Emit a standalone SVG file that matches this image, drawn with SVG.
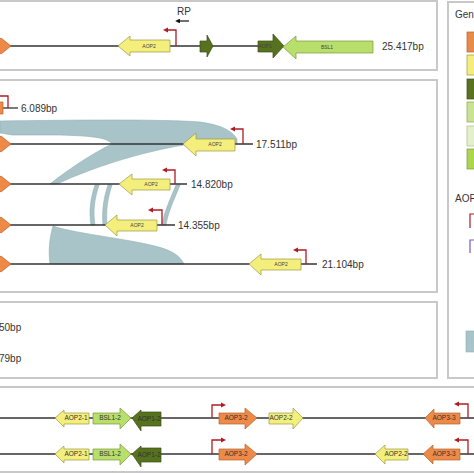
<svg xmlns="http://www.w3.org/2000/svg" width="474" height="474" viewBox="0 0 474 474">
<defs>
<style>
.panel{fill:#fff;stroke:#c8c8c8;stroke-width:2}
.line{stroke:#333;stroke-width:1.3;fill:none}
.orange{fill:#ee8a48;stroke:#b5622c;stroke-width:0.7}
.yellow{fill:#f4ef7c;stroke:#9c9840;stroke-width:0.7}
.dgreen{fill:#56721f;stroke:#3a4f12;stroke-width:0.7}
.lgreen{fill:#b8de6c;stroke:#7a9a3a;stroke-width:0.7}
.teal{fill:#a9c4c9;stroke:#90b0b6;stroke-width:0.6}
.prom{stroke:#b01c22;stroke-width:1.3;fill:none}
.lbl{font-family:"Liberation Sans",Arial,sans-serif;fill:#333;font-size:10px}
.gl{font-family:"Liberation Sans",Arial,sans-serif;fill:#444;font-size:5px;text-anchor:middle}
.gl2{font-family:"Liberation Sans",Arial,sans-serif;fill:#333;font-size:6.5px;text-anchor:middle}
</style>
<marker id="rh" viewBox="0 0 10 10" refX="2" refY="5" markerWidth="4" markerHeight="4" orient="auto"><path d="M0,0 L10,5 L0,10 Z" fill="#b01c22"/></marker>
<marker id="bh" viewBox="0 0 10 10" refX="2" refY="5" markerWidth="4" markerHeight="4" orient="auto"><path d="M0,0 L10,5 L0,10 Z" fill="#111"/></marker>
</defs>
<rect width="474" height="474" fill="#fff"/>

<!-- panels -->
<g id="panels">
<rect class="panel" x="-5" y="1" width="442" height="69"/>
<rect class="panel" x="-5" y="80" width="442" height="212"/>
<rect class="panel" x="-5" y="302" width="442" height="76"/>
<rect class="panel" x="448" y="2" width="40" height="376"/>
<rect class="panel" x="-5" y="387" width="490" height="85"/>
</g>

<!-- alignment ribbons -->
<g id="ribbons">
<path class="teal" d="M0,121 C70,120 160,119 200,122 C222,125 232,131 237,139 L237,144 L190,144 C150,150 100,164 57,184 L50,184 C70,168 95,152 112,144 C108,138 95,136 60,135 L12,135 C6,134 2,133 0,133 Z"/>
<path class="teal" d="M95,185 C90,200 89,212 91,225 L95,225 C93,212 94,200 99,185 Z"/>
<path class="teal" d="M108,185 C103,200 102,212 103,225 L107,225 C106,212 107,200 112,185 Z"/>
<path class="teal" d="M176,185 C170,200 164,212 162,225 L166,225 C168,212 174,200 180,185 Z"/>
<path class="teal" d="M53,226 C75,234 140,240 165,249 C176,253 181,258 184,264 L50,264 C48,250 50,236 53,226 Z"/>
</g>

<!-- connectors: backbone lines and promoters -->
<g id="connectors">
<line class="line" x1="10" y1="46" x2="283" y2="46"/>
<line class="line" x1="3" y1="108" x2="18" y2="108"/>
<line class="line" x1="10" y1="144" x2="253" y2="144"/>
<line class="line" x1="10" y1="184" x2="187" y2="184"/>
<line class="line" x1="10" y1="225" x2="175" y2="225"/>
<line class="line" x1="10" y1="264" x2="317" y2="264"/>
<line class="line" x1="-5" y1="418" x2="480" y2="418"/>
<line class="line" x1="-5" y1="454" x2="480" y2="454"/>
<path class="prom" d="M176,46 V30 H167" marker-end="url(#rh)"/>
<path class="prom" d="M8,108 V96 H-2"/>
<path class="prom" d="M243,144 V129 H234" marker-end="url(#rh)"/>
<path class="prom" d="M175,184 V170 H166" marker-end="url(#rh)"/>
<path class="prom" d="M162,225 V210 H152" marker-end="url(#rh)"/>
<path class="prom" d="M306,264 V250 H297" marker-end="url(#rh)"/>
<path class="prom" d="M212,418 V405 H222" marker-end="url(#rh)"/>
<path class="prom" d="M468,418 V404 H458" marker-end="url(#rh)"/>
<path class="prom" d="M212,454 V440 H222" marker-end="url(#rh)"/>
<path class="prom" d="M468,454 V440 H458" marker-end="url(#rh)"/>
<line x1="189" y1="21" x2="179" y2="21" stroke="#111" stroke-width="1.2" marker-end="url(#bh)"/>
</g>

<!-- panel 1 -->
<g id="p1-start"><polygon class="orange" points="-8,46 1,38 11,46 1,54"/></g>
<g id="p1-aop2"><path class="yellow" d="M118,46 L130,36 L130,40 L170,40 L170,52 L130,52 L130,56 Z"/><text class="gl" x="149" y="48">AOP2</text></g>
<g id="p1-small"><path class="dgreen" d="M200,41 L207,41 L207,35 L213,46 L207,57 L207,52 L200,52 Z"/></g>
<g id="p1-aop1"><path class="dgreen" d="M258,41 L273,41 L273,34 L284,46 L273,58 L273,52 L258,52 Z"/><text class="gl" x="265" y="48" fill="#222">AOP1</text></g>
<g id="p1-bsl1"><path class="lgreen" d="M283,47 L296,36 L296,41 L373,41 L373,53 L296,53 L296,59 Z"/><text class="gl" x="327" y="49">BSL1</text></g>
<g id="p1-label"><text class="lbl" x="382" y="50">25.417bp</text><text class="lbl" x="177" y="15">RP</text></g>

<!-- panel 2 -->
<g id="r1"><rect class="orange" x="-6" y="102" width="9" height="12"/><text class="lbl" x="21" y="112">6.089bp</text></g>
<g id="r2"><polygon class="orange" points="-8,144 1,136 11,144 1,152"/><path class="yellow" d="M183,144 L196,133 L196,139 L235,139 L235,151 L196,151 L196,156 Z"/><text class="gl" x="215" y="146">AOP2</text><text class="lbl" x="256" y="148">17.511bp</text></g>
<g id="r3"><polygon class="orange" points="-8,184 1,176 11,184 1,192"/><path class="yellow" d="M119,184 L132,174 L132,179 L170,179 L170,190 L132,190 L132,195 Z"/><text class="gl" x="151" y="186">AOP2</text><text class="lbl" x="191" y="188">14.820bp</text></g>
<g id="r4"><polygon class="orange" points="-8,225 1,217 11,225 1,233"/><path class="yellow" d="M105,225 L117,215 L117,220 L157,220 L157,231 L117,231 L117,236 Z"/><text class="gl" x="137" y="227">AOP2</text><text class="lbl" x="178" y="229">14.355bp</text></g>
<g id="r5"><polygon class="orange" points="-8,264 1,256 11,264 1,272"/><path class="yellow" d="M249,264 L261,254 L261,259 L301,259 L301,270 L261,270 L261,275 Z"/><text class="gl" x="281" y="266">AOP2</text><text class="lbl" x="322" y="268">21.104bp</text></g>

<!-- panel 3 -->
<g id="p3"><text class="lbl" x="-1" y="331">50bp</text><text class="lbl" x="-1" y="362">79bp</text></g>

<!-- legend -->
<g id="legend">
<text class="lbl" x="455" y="18" font-size="11">Genes</text>
<rect x="467" y="32" width="12" height="20" fill="#e98a4b" stroke="#b5622c" stroke-width="0.7"/>
<rect x="467" y="55" width="12" height="20" fill="#f3ee7c" stroke="#9c9840" stroke-width="0.7"/>
<rect x="467" y="79" width="12" height="20" fill="#5a7320" stroke="#3a4f12" stroke-width="0.7"/>
<rect x="467" y="102" width="12" height="20" fill="#c9e294" stroke="#8aa650" stroke-width="0.7"/>
<rect x="467" y="126" width="12" height="20" fill="#e3f0cb" stroke="#a8bf86" stroke-width="0.7"/>
<rect x="467" y="149" width="12" height="20" fill="#add54f" stroke="#7a9a3a" stroke-width="0.7"/>
<text class="lbl" x="455" y="202" font-size="11">AOP</text>
<path d="M470,228 V214 H480" stroke="#b01c22" stroke-width="1.2" fill="none"/>
<path d="M470,253 V240 H480" stroke="#7a5cc0" stroke-width="1.2" fill="none"/>
<rect class="teal" x="466" y="331" width="12" height="21"/>
</g>

<!-- panel 4 -->
<g id="b-row1">
<path class="yellow" d="M55,418 L64,410 L64,413 L89,413 L89,424 L64,424 L64,427 Z"/><text class="gl2" x="76" y="420">AOP2-1</text>
<path class="lgreen" d="M93,413 L120,413 L120,408 L131,418 L120,429 L120,424 L93,424 Z"/><text class="gl2" x="110" y="420">BSL1-2</text>
<path class="dgreen" d="M132,418 L141,410 L141,412 L161,412 L161,426 L141,426 L141,431 Z"/><text class="gl2" x="149" y="421" fill="#111">AOP1-2</text>
<path class="orange" d="M219,413 L245,413 L245,408 L257,418 L245,429 L245,424 L219,424 Z"/><text class="gl2" x="236" y="420">AOP3-2</text>
<path class="yellow" d="M269,413 L293,413 L293,408 L303,418 L293,429 L293,424 L269,424 Z"/><text class="gl2" x="281" y="420">AOP2-2</text>
<path class="orange" d="M425,418 L434,409 L434,413 L460,413 L460,424 L434,424 L434,428 Z"/><text class="gl2" x="444" y="420">AOP3-3</text>
</g>
<g id="b-row2">
<path class="yellow" d="M55,454 L64,446 L64,449 L89,449 L89,460 L64,460 L64,463 Z"/><text class="gl2" x="76" y="456">AOP2-1</text>
<path class="lgreen" d="M93,449 L120,449 L120,444 L131,454 L120,465 L120,460 L93,460 Z"/><text class="gl2" x="110" y="456">BSL1-2</text>
<path class="dgreen" d="M132,454 L141,446 L141,448 L161,448 L161,462 L141,462 L141,467 Z"/><text class="gl2" x="149" y="457" fill="#111">AOP1-2</text>
<path class="orange" d="M219,449 L245,449 L245,444 L257,454 L245,465 L245,460 L219,460 Z"/><text class="gl2" x="236" y="456">AOP3-2</text>
<path class="yellow" d="M375,454 L385,445 L385,449 L408,449 L408,460 L385,460 L385,464 Z"/><text class="gl2" x="396" y="456">AOP2-2</text>
<path class="orange" d="M423,454 L433,445 L433,449 L460,449 L460,460 L433,460 L433,464 Z"/><text class="gl2" x="444" y="456">AOP3-3</text>
</g>
</svg>
